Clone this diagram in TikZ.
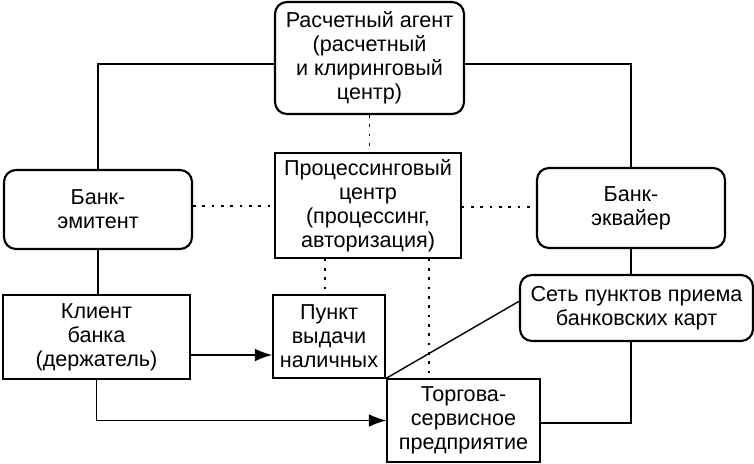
\documentclass[tikz,border=0pt]{standalone}
\usepackage{fontspec}
\setmainfont{Liberation Sans}
\usetikzlibrary{arrows.meta}

\tikzset{
  rbox/.style={draw, rounded corners=9pt, line width=1.6pt, align=center, inner sep=0pt,
    font=\fontsize{16.2pt}{18pt}\selectfont},
  sbox/.style={draw, line width=1.1pt, align=center, inner sep=0pt,
    font=\fontsize{16.2pt}{18pt}\selectfont},
  link/.style={line width=1.05pt},
  dotlink/.style={line width=1.4pt, dash pattern=on 2pt off 5pt},
  arr/.style={link, -{Latex[length=13pt,width=9.5pt]}}
}

\begin{document}
\begin{tikzpicture}[x=0.75pt,y=0.75pt,yscale=-1,xscale=1]
\useasboundingbox (0,0) rectangle (754,464);

% Boxes
\node (agent) [rbox, minimum width=141.75pt, minimum height=84pt] at (369.5,58) {Расчетный агент\\(расчетный\\и клиринговый\\центр)};
\node (emit) [rbox, minimum width=141pt, minimum height=59.25pt] at (98,209.5) {Банк-\\эмитент};
\node (acq) [rbox, minimum width=141pt, minimum height=60pt] at (631,208) {Банк-\\эквайер};
\node (proc) [sbox, minimum width=139.5pt, minimum height=78.75pt] at (368,205.5) {Процессинговый\\центр\\(процессинг,\\авторизация)};
\node (client) [sbox, minimum width=140.25pt, minimum height=63pt] at (96.5,337) {Клиент\\банка\\(держатель)};
\node (cash) [sbox, minimum width=84pt, minimum height=62.25pt] at (329,336.5) {Пункт\\выдачи\\наличных};
\node (trade) [sbox, minimum width=114.75pt, minimum height=62.25pt] at (463.5,420.5) {Торгова-\\сервисное\\предприятие};
\node (net) [rbox, minimum width=174.75pt, minimum height=49.5pt] at (636.5,308) {Сеть пунктов приема\\банковских карт};

% Solid links
\draw [link] ([yshift=4.5pt]agent.west) -| (emit.north);
\draw [link] ([yshift=4.5pt]agent.east) -| (acq.north);
\draw [link] (emit.south) -- (emit.south |- client.north);
\draw [link] (acq.south) -- (acq.south |- net.north);
\draw [link] (acq.south |- net.south) |- ([yshift=2pt]trade.east);
\draw [link] ([yshift=-5pt]net.west) -- (trade.north west);

% Arrows
\draw [arr] ([yshift=13.5pt]client.east) -- ([yshift=13.5pt]client.east -| cash.west);
\draw [arr] (client.south) |- (trade.west);

% Dotted links
\draw [dotlink] (agent.south) -- (agent.south |- proc.north);
\draw [dotlink] ([yshift=-2.5pt]emit.east) -- ([yshift=-2.5pt]emit.east -| proc.west);
\draw [dotlink] ([yshift=-1pt]acq.west -| proc.east) -- ([yshift=-1pt]acq.west);
\draw [dotlink] ([xshift=-3pt]cash.north |- proc.south) -- ([xshift=-3pt]cash.north);
\draw [dotlink] ([xshift=45.75pt]proc.south) -- ([xshift=45.75pt]proc.south |- trade.north);

\end{tikzpicture}
\end{document}
